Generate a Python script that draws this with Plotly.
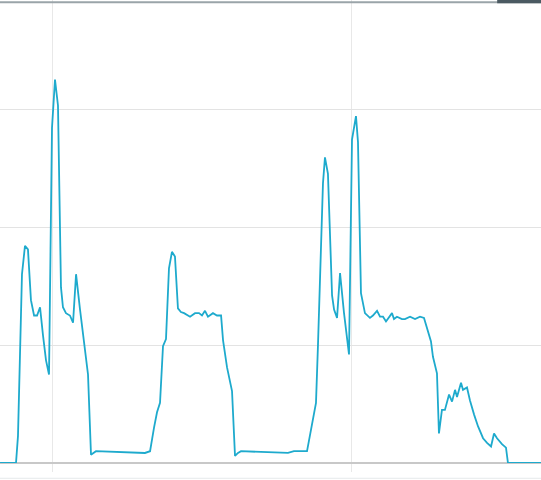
import plotly.graph_objects as go

# hours since the first gridline, and the reading at each point
hours = [
    -4.17, -2.89, -2.73, -2.41, -2.17, -1.93, -1.69, -1.44, -1.20, -0.96,
    -0.72, -0.48, -0.24, 0.00, 0.24, 0.48, 0.72, 0.88, 1.12, 1.44,
    1.69, 1.93, 2.25, 2.57, 2.89, 3.13, 3.53, 7.46, 7.87, 8.19,
    8.43, 8.67, 8.91, 9.15, 9.39, 9.63, 9.87, 10.11, 10.35, 10.60,
    11.08, 11.48, 11.80, 12.04, 12.28, 12.52, 12.92, 13.24, 13.57, 13.73,
    14.05, 14.45, 14.69, 14.93, 15.17, 18.94, 19.42, 20.47, 20.79, 20.95,
    21.19, 21.35, 21.75, 21.91, 22.15, 22.48, 22.64, 22.88, 23.12, 23.44,
    23.68, 23.84, 24.08, 24.40, 24.56, 24.80, 25.12, 25.52, 25.76, 26.09,
    26.33, 26.57, 26.81, 27.29, 27.45, 27.69, 28.09, 28.33, 28.74, 29.14,
    29.54, 29.86, 30.42, 30.58, 30.90, 31.06, 31.30, 31.54, 31.87, 32.11,
    32.35, 32.51, 32.83, 32.99, 33.31, 33.55, 33.88, 34.20, 34.60, 34.92,
    35.24, 35.48, 35.72, 36.12, 36.44, 36.60, 39.25,
]
values = [
    0.0, 0.0, 2.3, 16.0, 18.4, 18.1, 13.8, 12.5, 12.5, 13.2,
    10.8, 8.7, 7.5, 28.4, 32.5, 30.3, 14.9, 13.2, 12.7, 12.5,
    11.9, 16.0, 13.0, 10.3, 7.5, 0.7, 1.0, 0.85, 1.0, 3.0,
    4.3, 5.1, 9.9, 10.5, 16.5, 17.9, 17.5, 13.1, 12.8, 12.7,
    12.4, 12.7, 12.7, 12.5, 12.9, 12.4, 12.7, 12.5, 12.5, 10.4,
    8.1, 6.1, 0.6, 0.85, 1.0, 0.85, 1.0, 1.0, 2.8, 3.8,
    5.1, 10.0, 23.7, 25.9, 24.5, 14.2, 13.0, 12.3, 16.1, 12.7,
    10.7, 9.2, 27.4, 29.4, 27.2, 14.4, 12.7, 12.3, 12.5, 12.9,
    12.4, 12.4, 12.0, 12.7, 12.2, 12.4, 12.2, 12.2, 12.4, 12.2,
    12.4, 12.3, 10.3, 9.0, 7.6, 2.5, 4.5, 4.5, 5.8, 5.2,
    6.2, 5.6, 6.8, 6.2, 6.4, 5.3, 4.1, 3.1, 2.1, 1.7,
    1.4, 2.5, 2.1, 1.6, 1.3, 0.0, 0.0,
]

fig = go.Figure()
fig.add_trace(go.Scatter(
    x=hours,
    y=values,
    mode='lines',
    line=dict(color='#1eaacd', width=1.8),
    showlegend=False,
    hoverinfo='skip',
))

# thin bar along the top and the faint rule under the axis
fig.add_shape(type='line', xref='paper', yref='paper', x0=0, x1=1, y0=0.995, y1=0.995,
              line=dict(color='#9aa4a9', width=2))
fig.add_shape(type='rect', xref='paper', yref='paper', x0=0.919, x1=1, y0=0.993, y1=1.0,
              line=dict(width=0), fillcolor='#4b5a62')
fig.add_shape(type='line', xref='paper', yref='paper', x0=0, x1=1, y0=-0.033, y1=-0.033,
              line=dict(color='#e6e9eb', width=1))

fig.update_layout(
    width=541,
    height=480,
    margin=dict(l=0, r=0, t=0, b=17),
    paper_bgcolor='white',
    plot_bgcolor='white',
    xaxis=dict(
        range=[-4.174, 39.251],
        dtick=24,
        tick0=0,
        showgrid=True,
        gridcolor='#e8e8e8',
        gridwidth=1,
        zeroline=False,
        showline=False,
        ticks='outside',
        ticklen=8,
        tickcolor='#e8e8e8',
        showticklabels=False,
    ),
    yaxis=dict(
        range=[0, 39.24],
        dtick=10,
        showgrid=True,
        gridcolor='#e3e3e3',
        gridwidth=1,
        zeroline=True,
        zerolinecolor='#c8c8c8',
        zerolinewidth=2,
        showticklabels=False,
    ),
)

# page body has a default margin; drop it so the chart sits flush with the window
fig.write_html(
    'out.html',
    config={'displayModeBar': False},
    post_script="document.body.style.margin='0';document.body.style.overflow='hidden';",
)
